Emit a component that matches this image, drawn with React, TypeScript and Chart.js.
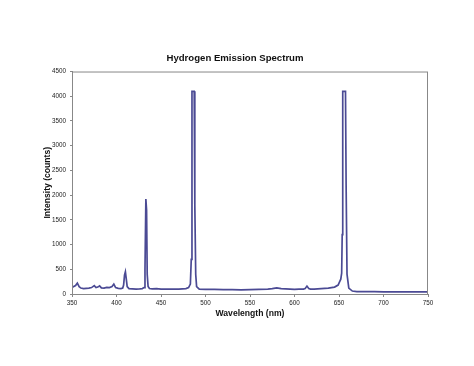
import React, { useEffect, useRef } from "react";
import { Chart, registerables } from "chart.js";

Chart.register(...registerables);

const wavelengths = [
  350, 352, 354, 356, 358, 360, 363, 366, 369, 372, 375, 377, 379, 381, 383, 386,
  389, 392, 395, 397, 399, 402, 405, 407, 408, 409, 410, 411, 412, 414, 418, 422,
  426, 429, 431, 432, 433, 433.8, 434.5, 435.5, 437, 440, 445, 450, 460, 470, 478,
  481, 483, 484, 484.8, 485.5, 486.5, 487.3, 488, 489, 490, 493, 500, 510, 520, 530,
  540, 550, 560, 570, 575, 580, 585, 590, 595, 600, 605, 610, 612, 614, 616, 618,
  622, 630, 638, 645, 649, 651, 652, 653, 653.6, 654.2, 655, 656.5, 657.3, 658,
  659, 661, 665, 670, 680, 690, 700, 710, 720, 730, 740, 750,
];

const intensities = [
  130, 150, 170, 220, 150, 120, 110, 115, 120, 130, 170, 130, 140, 165, 125, 120,
  135, 130, 150, 200, 130, 115, 110, 120, 180, 380, 450, 300, 150, 110, 105, 100,
  105, 110, 130, 500, 1920, 1700, 400, 150, 110, 105, 110, 100, 100, 100, 110,
  130, 200, 700, 4100, 4100, 4100, 4100, 1800, 400, 150, 100, 95, 95, 90, 90,
  85, 90, 95, 100, 110, 125, 110, 105, 100, 95, 100, 100, 110, 160, 110, 100,
  100, 110, 120, 140, 180, 260, 300, 420, 1200, 4100, 4100, 4100, 4100, 2200,
  400, 120, 60, 50, 50, 50, 45, 45, 45, 45, 45, 45,
];

const yTicks = [0, 500, 1000, 1500, 2000, 2500, 3000, 3500, 4000, 4500];
const xTicks = [350, 400, 450, 500, 550, 600, 650, 700, 750];

export default function App() {
  const ref = useRef<HTMLCanvasElement | null>(null);

  useEffect(() => {
    document.body.style.margin = "0";
    document.body.style.background = "#ffffff";
    const canvas = ref.current;
    if (!canvas) return;
    const points = wavelengths.map((w, i) => ({ x: w, y: intensities[i] }));
    const font = "'Liberation Sans', Arial, sans-serif";
    const chart = new Chart(canvas, {
      type: "line",
      data: {
        datasets: [
          {
            data: points,
            borderColor: "#4b4a94",
            borderWidth: 1.7,
            pointRadius: 0,
            tension: 0,
            fill: false,
          },
        ],
      },
      options: {
        animation: false,
        responsive: false,
        maintainAspectRatio: false,
        layout: { padding: { left: 42, right: 46, top: 53, bottom: 47 } },
        plugins: {
          legend: { display: false },
          tooltip: { enabled: false },
          title: {
            display: true,
            text: "Hydrogen Emission Spectrum",
            color: "#111111",
            font: { family: font, size: 9.6, weight: "bold" },
            padding: { top: 0, bottom: 7 },
          },
        },
        scales: {
          x: {
            type: "linear",
            min: 350,
            max: 750,
            afterBuildTicks: (scale: any) => {
              scale.ticks = xTicks.map((v) => ({ value: v }));
            },
            afterFit: (scale: any) => {
              scale.height = 25;
            },
            ticks: {
              color: "#222222",
              font: { family: font, size: 6.3 },
              padding: 2,
              maxRotation: 0,
              callback: (v: any) => String(v),
            },
            grid: {
              drawOnChartArea: false,
              drawTicks: true,
              tickLength: 3,
              color: "#888888",
            },
            border: { display: true, color: "#888888", width: 1 },
            title: {
              display: true,
              text: "Wavelength (nm)",
              color: "#111111",
              font: { family: font, size: 8.6, weight: "bold" },
              padding: { top: 1, bottom: 0 },
            },
          },
          y: {
            type: "linear",
            min: 0,
            max: 4500,
            afterBuildTicks: (scale: any) => {
              scale.ticks = yTicks.map((v) => ({ value: v }));
            },
            afterFit: (scale: any) => {
              scale.width = 30;
            },
            ticks: {
              color: "#222222",
              font: { family: font, size: 6.3 },
              padding: 4,
              callback: (v: any) => String(v),
            },
            grid: {
              drawOnChartArea: false,
              drawTicks: true,
              tickLength: 2,
              color: "#888888",
            },
            border: { display: true, color: "#888888", width: 1 },
            title: {
              display: true,
              text: "Intensity (counts)",
              color: "#111111",
              font: { family: font, size: 8.6, weight: "bold" },
              padding: { top: 0, bottom: 0 },
            },
          },
        },
      },
      plugins: [
        {
          id: "frame",
          afterDraw: (c: any) => {
            const { left, right, top, bottom } = c.chartArea;
            const ctx = c.ctx;
            ctx.save();
            ctx.strokeStyle = "#888888";
            ctx.lineWidth = 1;
            ctx.strokeRect(left + 0.5, top + 0.5, right - left - 1, bottom - top);
            ctx.restore();
          },
        },
      ],
    });
    return () => chart.destroy();
  }, []);

  return (
    <div style={{ position: "absolute", left: 0, top: 0, width: 474, height: 366 }}>
      <canvas ref={ref} width={474} height={366} style={{ width: 474, height: 366 }} />
    </div>
  );
}
